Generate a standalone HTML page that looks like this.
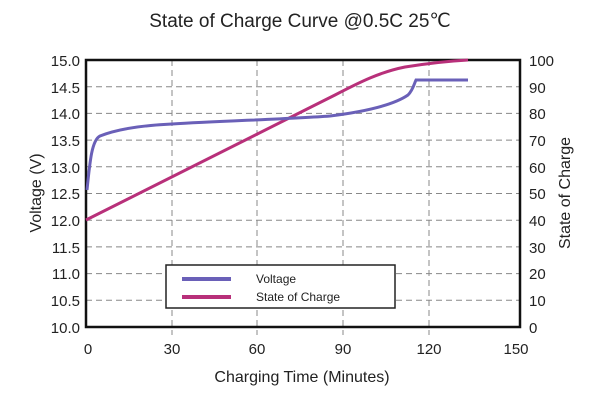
<!DOCTYPE html>
<html><head><style>body{margin:0;background:#fff}svg{display:block}</style></head><body>
<svg width="600" height="400" xmlns="http://www.w3.org/2000/svg" font-family="Liberation Sans, sans-serif">
<text x="300" y="27" font-size="19" text-anchor="middle" fill="#222">State of Charge Curve @0.5C 25℃</text>
<g stroke="#888" stroke-dasharray="6,4" stroke-width="1">
<line x1="86" x2="520" y1="86.7" y2="86.7"/><line x1="86" x2="520" y1="113.4" y2="113.4"/><line x1="86" x2="520" y1="140.1" y2="140.1"/><line x1="86" x2="520" y1="166.8" y2="166.8"/><line x1="86" x2="520" y1="193.5" y2="193.5"/><line x1="86" x2="520" y1="220.2" y2="220.2"/><line x1="86" x2="520" y1="246.9" y2="246.9"/><line x1="86" x2="520" y1="273.6" y2="273.6"/><line x1="86" x2="520" y1="300.3" y2="300.3"/>
<line x1="172" x2="172" y1="60" y2="335"/><line x1="257" x2="257" y1="60" y2="335"/><line x1="343" x2="343" y1="60" y2="335"/><line x1="429" x2="429" y1="60" y2="335"/>
</g>
<rect x="86" y="60" width="434" height="267" fill="none" stroke="#111" stroke-width="2.5"/>
<g font-size="15" fill="#222" text-anchor="end">
<text x="80" y="66">15.0</text><text x="80" y="93">14.5</text><text x="80" y="119">14.0</text><text x="80" y="146">13.5</text><text x="80" y="173">13.0</text><text x="80" y="199">12.5</text><text x="80" y="226">12.0</text><text x="80" y="253">11.5</text><text x="80" y="279">11.0</text><text x="80" y="306">10.5</text><text x="80" y="333">10.0</text>
</g>
<g font-size="15" fill="#222" text-anchor="start">
<text x="529" y="66">100</text><text x="529" y="93">90</text><text x="529" y="119">80</text><text x="529" y="146">70</text><text x="529" y="173">60</text><text x="529" y="199">50</text><text x="529" y="226">40</text><text x="529" y="253">30</text><text x="529" y="279">20</text><text x="529" y="306">10</text><text x="529" y="333">0</text>
</g>
<g font-size="15" fill="#222" text-anchor="middle">
<text x="88" y="354">0</text><text x="172" y="354">30</text><text x="257" y="354">60</text><text x="343" y="354">90</text><text x="429" y="354">120</text><text x="516" y="354">150</text>
</g>
<text x="302" y="382" font-size="16" text-anchor="middle" fill="#222">Charging Time (Minutes)</text>
<text transform="translate(41,193) rotate(-90)" font-size="16" text-anchor="middle" fill="#222">Voltage (V)</text>
<text transform="translate(570,193) rotate(-90)" font-size="16" text-anchor="middle" fill="#222">State of Charge</text>
<path d="M86,220 L335,95 C360,82 380,72 405,67 C430,63 450,61 468,60" fill="none" stroke="#b8307a" stroke-width="3"/>
<path d="M87,190 C90,160 92,140 100,136 C120,128 150,125 172,124 C220,121 290,119 330,116 C370,111 395,104 408,95 C413,90 414,84 416,80 L468,80" fill="none" stroke="#6a60b8" stroke-width="3"/>
<rect x="166" y="265" width="229" height="43" fill="#fff" stroke="#222" stroke-width="1.5"/>
<line x1="182" x2="231" y1="279" y2="279" stroke="#6a60b8" stroke-width="4"/>
<line x1="182" x2="231" y1="297" y2="297" stroke="#b8307a" stroke-width="4"/>
<text x="256" y="283" font-size="12" fill="#222">Voltage</text>
<text x="256" y="301" font-size="12" fill="#222">State of Charge</text>
</svg>
</body></html>
